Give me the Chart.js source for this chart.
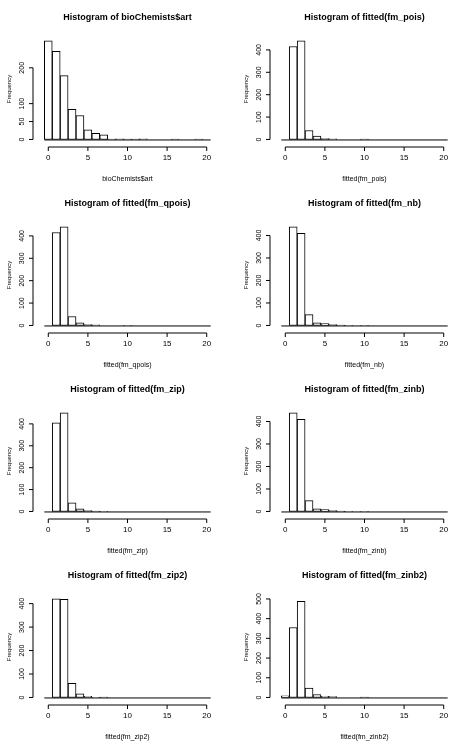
<!DOCTYPE html>
<html><head><meta charset="utf-8">
<script src="https://cdn.jsdelivr.net/npm/chart.js@4"></script>
<style>
body{margin:0;background:#fff;width:474px;height:745px;overflow:hidden}
#g{display:grid;grid-template-columns:237px 237px;grid-template-rows:repeat(4,186px)}
canvas{display:block}
</style></head><body><div id="g"></div>
<script>
const binCenters=[0,1,2,3,4,5,6,7,8,9,10,11,12,13,14,15,16,17,18,19,20];
const titles=["Histogram of bioChemists$art","Histogram of fitted(fm_pois)","Histogram of fitted(fm_qpois)","Histogram of fitted(fm_nb)","Histogram of fitted(fm_zip)","Histogram of fitted(fm_zinb)","Histogram of fitted(fm_zip2)","Histogram of fitted(fm_zinb2)"];
const xTitles=["bioChemists$art","fitted(fm_pois)","fitted(fm_qpois)","fitted(fm_nb)","fitted(fm_zip)","fitted(fm_zinb)","fitted(fm_zip2)","fitted(fm_zinb2)"];
const artCounts=[275,246,178,84,67,27,17,13,1,2,1,1,2,0,0,0,1,0,0,1,0];
const poisCounts=[0,415,440,40,15,4,3,0,0,0,2,0,0,0,0,0,0,0,0,0,0];
const qpoisCounts=[0,415,440,40,12,4,3,0,0,0,1,0,0,0,0,0,0,0,0,0,0];
const nbCounts=[0,438,410,48,12,8,4,2,1,0,1,0,0,0,0,0,0,0,0,0,0];
const zipCounts=[0,405,450,40,12,4,2,1,0,0,0,0,0,0,0,0,0,0,0,0,0];
const zinbCounts=[0,438,410,48,12,8,4,2,1,0,1,0,0,0,0,0,0,0,0,0,0];
const zip2Counts=[0,420,418,60,15,5,1,2,0,0,0,0,0,0,0,0,0,0,0,0,0];
const zinb2Counts=[8,355,488,48,15,6,4,0,0,0,2,0,0,0,0,0,0,0,0,0,0];
const series=[artCounts,poisCounts,qpoisCounts,nbCounts,zipCounts,zinbCounts,zip2Counts,zinb2Counts];
const yTicks=[[0,50,100,200],[0,100,200,300,400],[0,100,200,300,400],[0,100,200,300,400],[0,100,200,300,400],[0,100,200,300,400],[0,100,200,300,400],[0,100,200,300,400,500]];
const yTop=[275,440,440,438,450,438,420,500];
const xTicks=[0,5,10,15,20];
const F='"Liberation Sans", Arial, sans-serif';

const rPlugin={id:'r',afterDraw(c){
  const i=c.$idx, ctx=c.ctx, xs=c.scales.x, ys=c.scales.y;
  ctx.save();ctx.strokeStyle='#000';ctx.fillStyle='#000';ctx.lineWidth=1;
  const y0=ys.getPixelForValue(0);
  // baseline across bins
  ctx.beginPath();ctx.moveTo(xs.getPixelForValue(-0.5),y0+0.5);ctx.lineTo(xs.getPixelForValue(20.5),y0+0.5);ctx.stroke();
  // x axis
  const xb=c.chartArea.bottom+6;
  ctx.beginPath();ctx.moveTo(xs.getPixelForValue(xTicks[0]),xb);ctx.lineTo(xs.getPixelForValue(xTicks[xTicks.length-1]),xb);
  xTicks.forEach(t=>{const p=xs.getPixelForValue(t);ctx.moveTo(p,xb);ctx.lineTo(p,xb+4);});ctx.stroke();
  ctx.font='8px '+F;ctx.textAlign='center';ctx.textBaseline='top';
  xTicks.forEach(t=>ctx.fillText(String(t),xs.getPixelForValue(t),xb+7));
  ctx.font='7px '+F;ctx.fillText(xTitles[i],(c.chartArea.left+c.chartArea.right)/2,xb+29);
  // y axis
  const yl=c.chartArea.left-5, yt=yTicks[i];
  ctx.beginPath();ctx.moveTo(yl,ys.getPixelForValue(yt[0]));ctx.lineTo(yl,ys.getPixelForValue(yt[yt.length-1]));
  yt.forEach(t=>{const p=ys.getPixelForValue(t);ctx.moveTo(yl,p);ctx.lineTo(yl-4,p);});ctx.stroke();
  ctx.font='7px '+F;ctx.textBaseline='bottom';
  yt.forEach(t=>{const p=ys.getPixelForValue(t);ctx.save();ctx.translate(yl-7,p);ctx.rotate(-Math.PI/2);ctx.fillText(String(t),0,0);ctx.restore();});
  ctx.save();ctx.translate(9,(ys.top+ys.bottom)/2);ctx.rotate(-Math.PI/2);ctx.textBaseline='middle';ctx.font='6px '+F;ctx.fillText('Frequency',0,0);ctx.restore();
  // title
  ctx.font='bold 9px '+F;ctx.textBaseline='middle';ctx.fillText(titles[i],(c.chartArea.left+c.chartArea.right)/2,18);
  ctx.restore();
}};

series.forEach((s,i)=>{
  const cv=document.createElement('canvas');cv.width=237;cv.height=186;document.getElementById('g').appendChild(cv);
  const ymax=yTop[i]*1.04;
  const ch=new Chart(cv,{type:'bar',
    data:{datasets:[{data:binCenters.map((x,k)=>({x:x,y:s[k]})),backgroundColor:'#fff',borderColor:'#000',borderWidth:1,barPercentage:1,categoryPercentage:1,borderSkipped:false}]},
    options:{responsive:false,animation:false,devicePixelRatio:1,
      layout:{padding:{left:38,right:20,top:37,bottom:45}},
      plugins:{legend:{display:false},tooltip:{enabled:false}},
      scales:{x:{type:'linear',min:-1.3,max:21.3,display:false,offset:false},
              y:{min:-0.015*ymax,max:ymax,display:false}}},
    plugins:[{id:'idx',beforeInit(c){c.$idx=i;}},rPlugin]});
});
</script></body></html>
